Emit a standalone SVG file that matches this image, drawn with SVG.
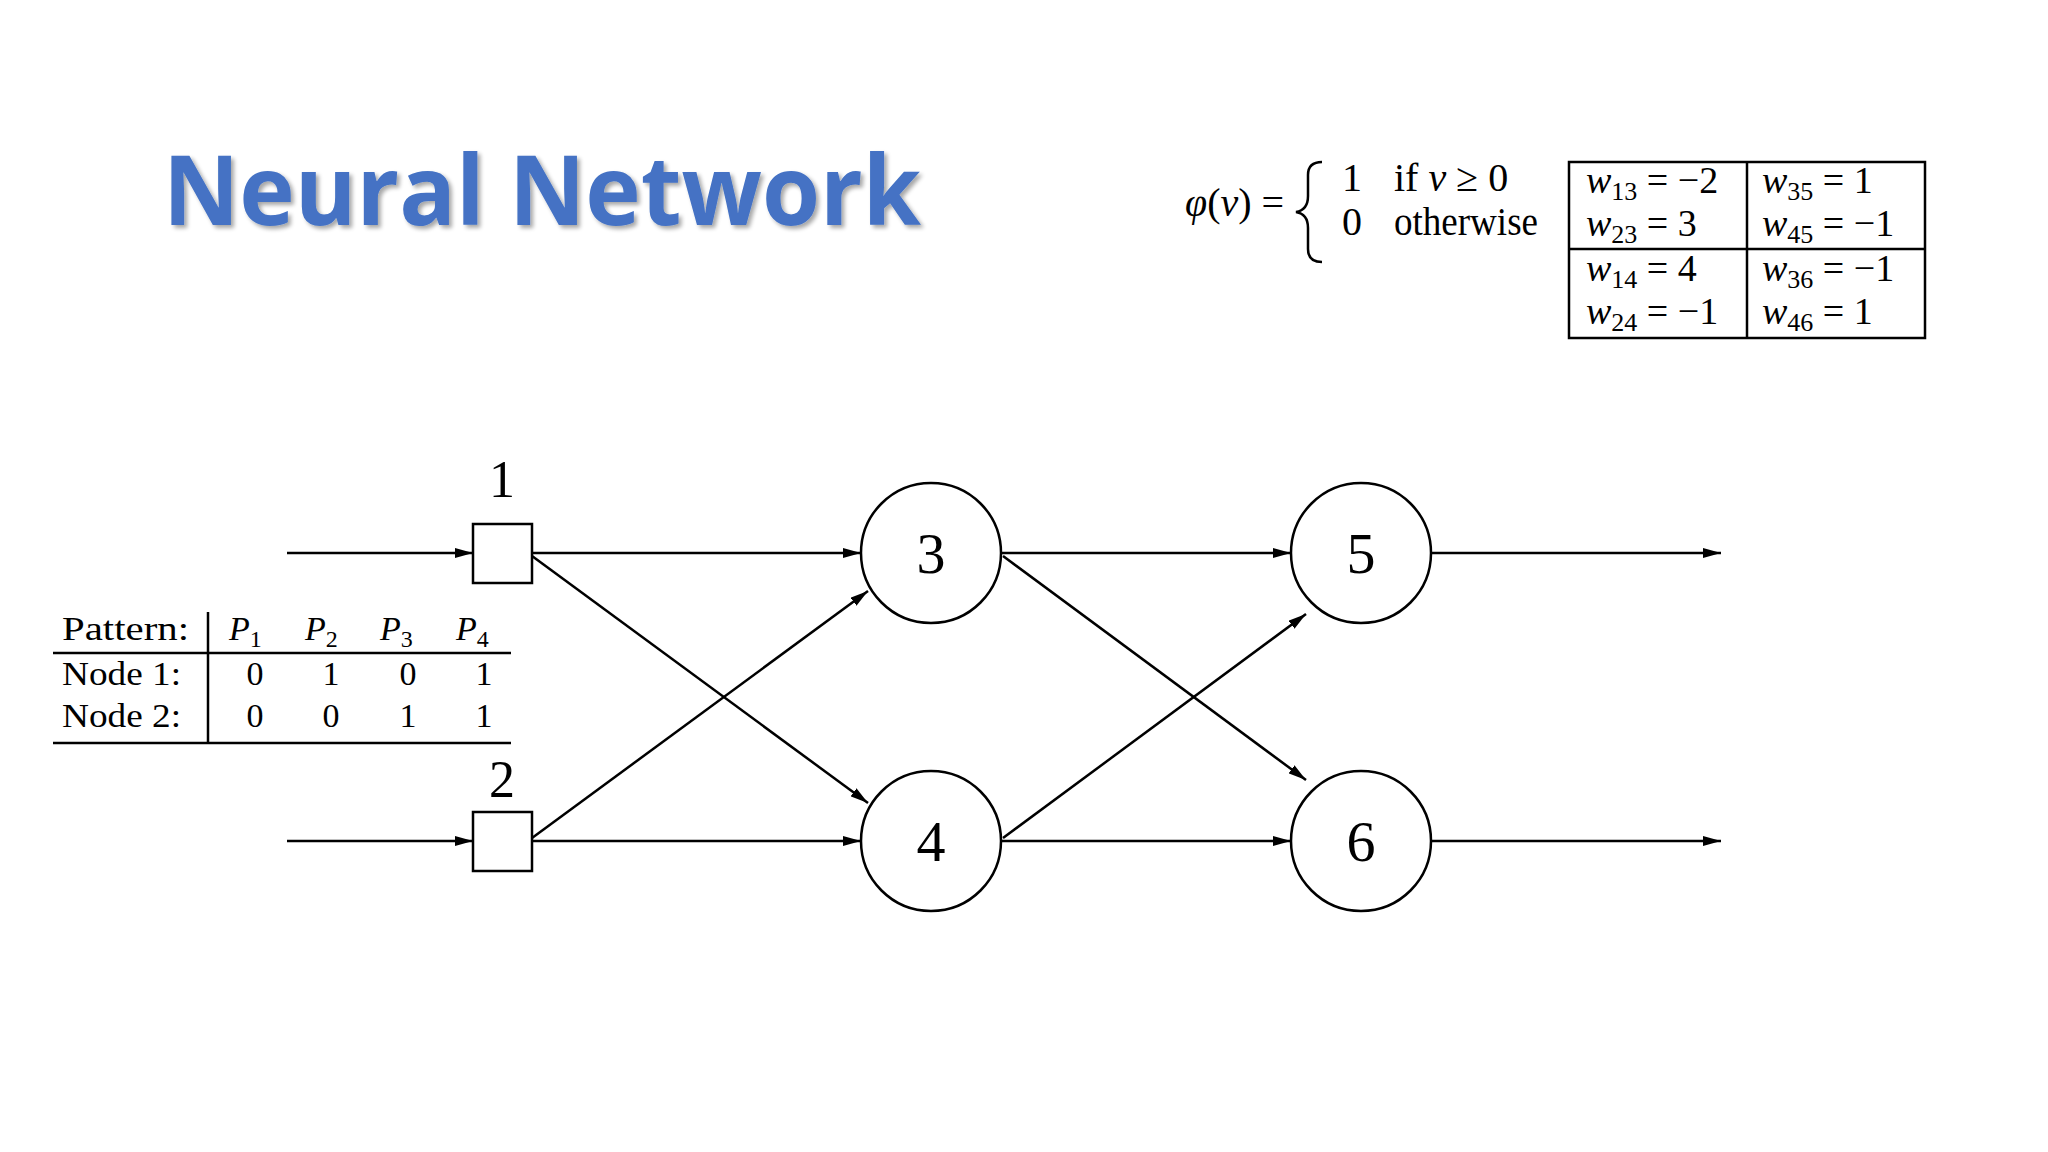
<svg xmlns="http://www.w3.org/2000/svg" width="2048" height="1152" viewBox="0 0 2048 1152">
<defs>
<marker id="ah" viewBox="0 0 18 10" refX="18" refY="5" markerWidth="18" markerHeight="10" markerUnits="userSpaceOnUse" orient="auto"><path d="M0,0 L18,5 L0,10 z" fill="#000"/></marker>
<filter id="sh" x="-5%" y="-10%" width="110%" height="130%"><feGaussianBlur in="SourceAlpha" stdDeviation="2"/><feOffset dx="3" dy="3"/><feComponentTransfer><feFuncA type="linear" slope="0.35"/></feComponentTransfer><feMerge><feMergeNode/><feMergeNode in="SourceGraphic"/></feMerge></filter>
</defs>
<style>
.m{font-family:"Liberation Serif","DejaVu Serif",serif;fill:#000}
.i{font-style:italic}
.ln{stroke:#000;stroke-width:2.5;fill:none}
.c{stroke:#000;stroke-width:2.5;fill:none;marker-end:url(#ah)}
.nd{fill:#fff;stroke:#000;stroke-width:2.5}
</style>
<rect width="2048" height="1152" fill="#fff"/>
<text x="163" y="225" font-family="'Open Sans','Liberation Sans',sans-serif" font-weight="bold" font-size="96" fill="#4472C4" textLength="758" lengthAdjust="spacingAndGlyphs" filter="url(#sh)">Neural Network</text>

<g id="formula" class="m" font-size="40">
<text x="1185" y="216"><tspan class="i">φ</tspan>(<tspan class="i">v</tspan>) =</text>
<path d="M1322,162 Q1308,162 1308,175 L1308,196 Q1308,210 1296,212 Q1308,214 1308,228 L1308,249 Q1308,262 1322,262" class="ln" stroke-width="2.5"/>
<text x="1342" y="191">1</text><text x="1394" y="191">if <tspan class="i">v</tspan> ≥ 0</text>
<text x="1342" y="235">0</text><text x="1394" y="235" textLength="144" lengthAdjust="spacingAndGlyphs">otherwise</text>
</g>

<g id="weights" class="m" font-size="38">
<rect x="1569" y="162" width="356" height="176" class="ln"/>
<line x1="1747" y1="162" x2="1747" y2="338" class="ln"/>
<line x1="1569" y1="249" x2="1925" y2="249" class="ln"/>
<text x="1586" y="193"><tspan class="i">w</tspan><tspan font-size="26" dy="7">13</tspan><tspan dy="-7"> = −2</tspan></text>
<text x="1586" y="236"><tspan class="i">w</tspan><tspan font-size="26" dy="7">23</tspan><tspan dy="-7"> = 3</tspan></text>
<text x="1586" y="281"><tspan class="i">w</tspan><tspan font-size="26" dy="7">14</tspan><tspan dy="-7"> = 4</tspan></text>
<text x="1586" y="324"><tspan class="i">w</tspan><tspan font-size="26" dy="7">24</tspan><tspan dy="-7"> = −1</tspan></text>
<text x="1762" y="193"><tspan class="i">w</tspan><tspan font-size="26" dy="7">35</tspan><tspan dy="-7"> = 1</tspan></text>
<text x="1762" y="236"><tspan class="i">w</tspan><tspan font-size="26" dy="7">45</tspan><tspan dy="-7"> = −1</tspan></text>
<text x="1762" y="281"><tspan class="i">w</tspan><tspan font-size="26" dy="7">36</tspan><tspan dy="-7"> = −1</tspan></text>
<text x="1762" y="324"><tspan class="i">w</tspan><tspan font-size="26" dy="7">46</tspan><tspan dy="-7"> = 1</tspan></text>
</g>

<g id="patterns" class="m" font-size="34">
<line x1="208" y1="612" x2="208" y2="743" class="ln"/>
<line x1="53" y1="653" x2="511" y2="653" class="ln"/>
<line x1="53" y1="743" x2="511" y2="743" class="ln"/>
<text x="62" y="640" textLength="127" lengthAdjust="spacingAndGlyphs">Pattern:</text>
<text x="62" y="685" textLength="119" lengthAdjust="spacingAndGlyphs">Node 1:</text>
<text x="62" y="727" textLength="119" lengthAdjust="spacingAndGlyphs">Node 2:</text>
<g class="i"><text x="229" y="640">P<tspan font-size="24" font-style="normal" dy="7">1</tspan></text>
<text x="305" y="640">P<tspan font-size="24" font-style="normal" dy="7">2</tspan></text>
<text x="380" y="640">P<tspan font-size="24" font-style="normal" dy="7">3</tspan></text>
<text x="456" y="640">P<tspan font-size="24" font-style="normal" dy="7">4</tspan></text></g>
<g text-anchor="middle"><text x="255" y="685">0</text><text x="331" y="685">1</text><text x="408" y="685">0</text><text x="484" y="685">1</text>
<text x="255" y="727">0</text><text x="331" y="727">0</text><text x="408" y="727">1</text><text x="484" y="727">1</text></g>
</g>

<g id="connectors">
<line x1="287" y1="553" x2="473" y2="553" class="c"/>
<line x1="287" y1="841" x2="473" y2="841" class="c"/>
<line x1="532" y1="553" x2="861" y2="553" class="c"/>
<line x1="532" y1="841" x2="861" y2="841" class="c"/>
<line x1="532" y1="556" x2="868" y2="803" class="c"/>
<line x1="532" y1="838" x2="868" y2="591" class="c"/>
<line x1="1001" y1="553" x2="1291" y2="553" class="c"/>
<line x1="1001" y1="841" x2="1291" y2="841" class="c"/>
<line x1="1003" y1="556" x2="1306" y2="780" class="c"/>
<line x1="1003" y1="838" x2="1306" y2="614" class="c"/>
<line x1="1431" y1="553" x2="1721" y2="553" class="c"/>
<line x1="1431" y1="841" x2="1721" y2="841" class="c"/>
</g>

<g id="n1" class="m"><rect x="473" y="524" width="59" height="59" class="nd"/><text x="502" y="497" font-size="52" text-anchor="middle">1</text></g>
<g id="n2" class="m"><rect x="473" y="812" width="59" height="59" class="nd"/><text x="502" y="797" font-size="52" text-anchor="middle">2</text></g>
<g id="n3" class="m"><circle cx="931" cy="553" r="70" class="nd"/><text x="931" y="573" font-size="58" text-anchor="middle">3</text></g>
<g id="n4" class="m"><circle cx="931" cy="841" r="70" class="nd"/><text x="931" y="861" font-size="58" text-anchor="middle">4</text></g>
<g id="n5" class="m"><circle cx="1361" cy="553" r="70" class="nd"/><text x="1361" y="573" font-size="58" text-anchor="middle">5</text></g>
<g id="n6" class="m"><circle cx="1361" cy="841" r="70" class="nd"/><text x="1361" y="861" font-size="58" text-anchor="middle">6</text></g>
</svg>
